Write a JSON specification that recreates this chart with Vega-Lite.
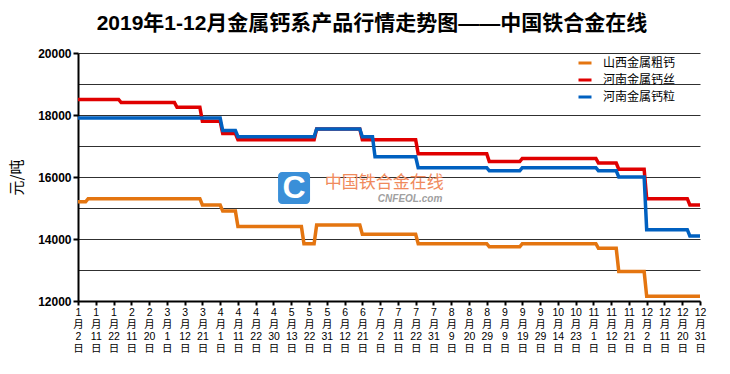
{
  "$schema": "https://vega.github.io/schema/vega-lite/v6.json",
  "autosize": {"type": "none"},
  "width": 622,
  "height": 248,
  "padding": {"left": 78, "top": 53, "right": 30, "bottom": 73},
  "background": "white",
  "title": {
    "text": "2019年1-12月金属钙系产品行情走势图——中国铁合金在线",
    "font": "Liberation Sans, Noto Sans CJK SC",
    "fontSize": 21,
    "fontWeight": "bold",
    "color": "#000000",
    "anchor": "middle",
    "dx": -17,
    "offset": 13
  },
  "config": {
    "view": {"stroke": null},
    "font": "Liberation Sans, Noto Sans CJK SC"
  },
  "datasets": {
    "prices": [
      {"d": 0, "s": "山西金属粗钙", "v": 15200},
      {"d": 3, "s": "山西金属粗钙", "v": 15200},
      {"d": 4, "s": "山西金属粗钙", "v": 15300},
      {"d": 48, "s": "山西金属粗钙", "v": 15300},
      {"d": 49, "s": "山西金属粗钙", "v": 15100},
      {"d": 56, "s": "山西金属粗钙", "v": 15100},
      {"d": 57, "s": "山西金属粗钙", "v": 14900},
      {"d": 62, "s": "山西金属粗钙", "v": 14900},
      {"d": 63, "s": "山西金属粗钙", "v": 14400},
      {"d": 88, "s": "山西金属粗钙", "v": 14400},
      {"d": 89, "s": "山西金属粗钙", "v": 13850},
      {"d": 93, "s": "山西金属粗钙", "v": 13850},
      {"d": 94, "s": "山西金属粗钙", "v": 14450},
      {"d": 111, "s": "山西金属粗钙", "v": 14450},
      {"d": 112, "s": "山西金属粗钙", "v": 14150},
      {"d": 133, "s": "山西金属粗钙", "v": 14150},
      {"d": 134, "s": "山西金属粗钙", "v": 13850},
      {"d": 161, "s": "山西金属粗钙", "v": 13850},
      {"d": 162, "s": "山西金属粗钙", "v": 13750},
      {"d": 174, "s": "山西金属粗钙", "v": 13750},
      {"d": 175, "s": "山西金属粗钙", "v": 13850},
      {"d": 204, "s": "山西金属粗钙", "v": 13850},
      {"d": 205, "s": "山西金属粗钙", "v": 13700},
      {"d": 212, "s": "山西金属粗钙", "v": 13700},
      {"d": 213, "s": "山西金属粗钙", "v": 12950},
      {"d": 223, "s": "山西金属粗钙", "v": 12950},
      {"d": 224, "s": "山西金属粗钙", "v": 12150},
      {"d": 245, "s": "山西金属粗钙", "v": 12150},

      {"d": 0, "s": "河南金属钙丝", "v": 18500},
      {"d": 16, "s": "河南金属钙丝", "v": 18500},
      {"d": 17, "s": "河南金属钙丝", "v": 18400},
      {"d": 38, "s": "河南金属钙丝", "v": 18400},
      {"d": 39, "s": "河南金属钙丝", "v": 18250},
      {"d": 48, "s": "河南金属钙丝", "v": 18250},
      {"d": 49, "s": "河南金属钙丝", "v": 17800},
      {"d": 56, "s": "河南金属钙丝", "v": 17800},
      {"d": 57, "s": "河南金属钙丝", "v": 17400},
      {"d": 62, "s": "河南金属钙丝", "v": 17400},
      {"d": 63, "s": "河南金属钙丝", "v": 17200},
      {"d": 93, "s": "河南金属钙丝", "v": 17200},
      {"d": 94, "s": "河南金属钙丝", "v": 17550},
      {"d": 111, "s": "河南金属钙丝", "v": 17550},
      {"d": 112, "s": "河南金属钙丝", "v": 17200},
      {"d": 133, "s": "河南金属钙丝", "v": 17200},
      {"d": 134, "s": "河南金属钙丝", "v": 16750},
      {"d": 161, "s": "河南金属钙丝", "v": 16750},
      {"d": 162, "s": "河南金属钙丝", "v": 16500},
      {"d": 174, "s": "河南金属钙丝", "v": 16500},
      {"d": 175, "s": "河南金属钙丝", "v": 16600},
      {"d": 204, "s": "河南金属钙丝", "v": 16600},
      {"d": 205, "s": "河南金属钙丝", "v": 16450},
      {"d": 212, "s": "河南金属钙丝", "v": 16450},
      {"d": 213, "s": "河南金属钙丝", "v": 16250},
      {"d": 223, "s": "河南金属钙丝", "v": 16250},
      {"d": 224, "s": "河南金属钙丝", "v": 15300},
      {"d": 240, "s": "河南金属钙丝", "v": 15300},
      {"d": 241, "s": "河南金属钙丝", "v": 15100},
      {"d": 245, "s": "河南金属钙丝", "v": 15100},

      {"d": 0, "s": "河南金属钙粒", "v": 17900},
      {"d": 56, "s": "河南金属钙粒", "v": 17900},
      {"d": 57, "s": "河南金属钙粒", "v": 17500},
      {"d": 62, "s": "河南金属钙粒", "v": 17500},
      {"d": 63, "s": "河南金属钙粒", "v": 17300},
      {"d": 93, "s": "河南金属钙粒", "v": 17300},
      {"d": 94, "s": "河南金属钙粒", "v": 17550},
      {"d": 111, "s": "河南金属钙粒", "v": 17550},
      {"d": 112, "s": "河南金属钙粒", "v": 17300},
      {"d": 116, "s": "河南金属钙粒", "v": 17300},
      {"d": 117, "s": "河南金属钙粒", "v": 16650},
      {"d": 133, "s": "河南金属钙粒", "v": 16650},
      {"d": 134, "s": "河南金属钙粒", "v": 16300},
      {"d": 161, "s": "河南金属钙粒", "v": 16300},
      {"d": 162, "s": "河南金属钙粒", "v": 16200},
      {"d": 174, "s": "河南金属钙粒", "v": 16200},
      {"d": 175, "s": "河南金属钙粒", "v": 16300},
      {"d": 204, "s": "河南金属钙粒", "v": 16300},
      {"d": 205, "s": "河南金属钙粒", "v": 16200},
      {"d": 212, "s": "河南金属钙粒", "v": 16200},
      {"d": 213, "s": "河南金属钙粒", "v": 16000},
      {"d": 223, "s": "河南金属钙粒", "v": 16000},
      {"d": 224, "s": "河南金属钙粒", "v": 14300},
      {"d": 240, "s": "河南金属钙粒", "v": 14300},
      {"d": 241, "s": "河南金属钙粒", "v": 14100},
      {"d": 245, "s": "河南金属钙粒", "v": 14100}
    ],
    "logo": [
      {"x1": 78.8, "x2": 91.4, "y1": 15130, "y2": 16160}
    ],
    "logoC": [{"x": 85.1, "y": 15645, "t": "C"}],
    "wmText": [{"x": 120.6, "y": 15820, "t": "中国铁合金在线"}],
    "wmSub": [{"x": 130.8, "y": 15290, "t": "CNFEOL.com"}]
  },
  "layer": [
    {
      "data": {"name": "prices"},
      "mark": {"type": "line", "strokeWidth": 3.5, "interpolate": "linear"},
      "encoding": {
        "x": {
          "field": "d",
          "type": "quantitative",
          "scale": {"domain": [0, 245], "nice": false, "zero": false},
          "axis": {
            "title": null,
            "values": [0, 7, 14, 21, 28, 35, 42, 49, 56, 63, 70, 77, 84, 91, 98, 105, 112, 119, 126, 133, 140, 147, 154, 161, 168, 175, 182, 189, 196, 203, 210, 217, 224, 231, 238, 245],
            "tickCount": 40,
            "labelExpr": "split(['1|月|2|日','1|月|11|日','1|月|22|日','2|月|11|日','2|月|20|日','3|月|1|日','3|月|12|日','3|月|21|日','4|月|1|日','4|月|11|日','4|月|22|日','4|月|30|日','5|月|13|日','5|月|22|日','5|月|31|日','6|月|12|日','6|月|21|日','7|月|2|日','7|月|11|日','7|月|22|日','7|月|31|日','8|月|9|日','8|月|20|日','8|月|29|日','9|月|9|日','9|月|19|日','9|月|29|日','10|月|14|日','10|月|23|日','11|月|1|日','11|月|12|日','11|月|21|日','12|月|2|日','12|月|11|日','12|月|20|日','12|月|31|日'][round(datum.value/7)], '|')",
            "labelAngle": 0,
            "labelAlign": "center",
            "labelBaseline": "top",
            "labelFontSize": 10.5,
            "labelLineHeight": 12,
            "labelColor": "#000000",
            "labelFont": "Liberation Sans, Noto Sans CJK SC",
            "labelPadding": 2,
            "labelOverlap": false,
            "labelFlush": false,
            "labelBound": false,
            "tickSize": 4,
            "tickWidth": 2,
            "tickColor": "#000000",
            "domainColor": "#000000",
            "domainWidth": 2,
            "grid": false
          }
        },
        "y": {
          "field": "v",
          "type": "quantitative",
          "scale": {"domain": [12000, 20000], "nice": false, "zero": false},
          "axis": {
            "title": "元/吨",
            "titleFont": "Noto Sans CJK SC",
            "titleFontSize": 15,
            "titleFontWeight": "normal",
            "titleColor": "#000000",
            "titlePadding": 13,
            "values": [12000, 13000, 14000, 15000, 16000, 17000, 18000, 19000, 20000],
            "tickCount": 12,
            "labelExpr": "datum.value % 2000 === 0 ? datum.value + '' : ''",
            "labelFontSize": 12,
            "labelFontWeight": "bold",
            "labelColor": "#000000",
            "labelFont": "Liberation Sans",
            "labelPadding": 2,
            "labelOverlap": false,
            "tickSize": 5,
            "tickWidth": 2,
            "tickColor": "#000000",
            "tickOpacity": {"condition": {"test": "datum.value % 2000 === 0", "value": 1}, "value": 0},
            "domainColor": "#000000",
            "domainWidth": 2,
            "grid": true,
            "gridColor": "#303030",
            "gridWidth": 1,
            "gridOpacity": 1
          }
        },
        "color": {
          "field": "s",
          "type": "nominal",
          "scale": {
            "domain": ["山西金属粗钙", "河南金属钙丝", "河南金属钙粒"],
            "range": ["#E47510", "#E00000", "#0060C0"]
          },
          "legend": {
            "title": null,
            "orient": "none",
            "legendX": 499,
            "legendY": 2,
            "symbolType": "stroke",
            "symbolStrokeWidth": 3,
            "symbolSize": 169,
            "labelFont": "Noto Sans CJK SC",
            "labelFontSize": 12,
            "labelColor": "#000000",
            "labelOffset": 10,
            "rowPadding": 3
          }
        }
      }
    },
    {
      "data": {"name": "logo"},
      "mark": {"type": "rect", "color": "#3A8FD8", "cornerRadius": 4},
      "encoding": {
        "x": {"field": "x1", "type": "quantitative"},
        "x2": {"field": "x2"},
        "y": {"field": "y1", "type": "quantitative"},
        "y2": {"field": "y2"}
      }
    },
    {
      "data": {"name": "logoC"},
      "mark": {"type": "text", "color": "white", "fontSize": 32, "fontWeight": "bold", "font": "Liberation Sans", "baseline": "middle", "align": "center"},
      "encoding": {
        "x": {"field": "x", "type": "quantitative"},
        "y": {"field": "y", "type": "quantitative"},
        "text": {"field": "t"}
      }
    },
    {
      "data": {"name": "wmText"},
      "mark": {"type": "text", "color": "#F08A5C", "fontSize": 17, "font": "Noto Sans CJK SC", "baseline": "middle", "align": "center"},
      "encoding": {
        "x": {"field": "x", "type": "quantitative"},
        "y": {"field": "y", "type": "quantitative"},
        "text": {"field": "t"}
      }
    },
    {
      "data": {"name": "wmSub"},
      "mark": {"type": "text", "color": "#A0A0A0", "fontSize": 10, "fontWeight": "bold", "fontStyle": "italic", "font": "Liberation Sans", "baseline": "middle", "align": "center"},
      "encoding": {
        "x": {"field": "x", "type": "quantitative"},
        "y": {"field": "y", "type": "quantitative"},
        "text": {"field": "t"}
      }
    }
  ]
}
